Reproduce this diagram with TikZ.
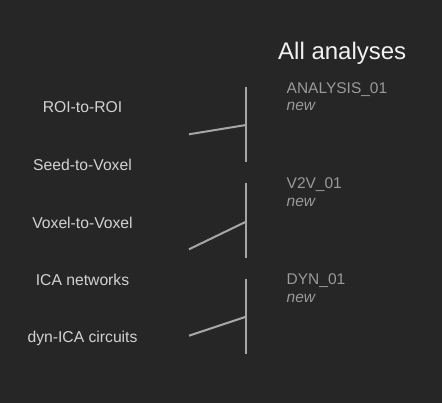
\documentclass[tikz,border=0pt]{standalone}
\usepackage{fontspec}
\setmainfont{Liberation Sans}
\definecolor{bg}{HTML}{262626}
\definecolor{lefttxt}{HTML}{D2D2D2}
\definecolor{grytxt}{HTML}{9A9A9A}
\definecolor{bar}{HTML}{A6A6A6}
\definecolor{titletxt}{HTML}{F2F2F2}
\tikzset{
  leftlabel/.style={anchor=base, inner sep=0pt, text=lefttxt, font=\fontsize{15.7}{18}\selectfont},
  anlabel/.style={anchor=base west, inner sep=0pt, text=grytxt, font=\fontsize{15.5}{18}\selectfont},
  newlabel/.style={anchor=base west, inner sep=0pt, text=grytxt, font=\fontsize{15.5}{18}\selectfont\itshape},
  titlelabel/.style={anchor=base west, inner sep=0pt, text=titletxt, font=\fontsize{24}{28}\selectfont},
  barline/.style={draw=bar, line width=2pt},
  diagline/.style={draw=bar, line width=2pt},
}
\begin{document}
\begin{tikzpicture}[x=1pt,y=-1pt]
\fill[bg] (0,0) rectangle (442,403);
\useasboundingbox (0,0) rectangle (442,403);
% title
\node[titlelabel] (title) at (278,60) {All analyses};
% left labels
\node[leftlabel] (roi) at (82.5,112.3) {ROI-to-ROI};
\node[leftlabel] (seed) at (82.5,170.5) {Seed-to-Voxel};
\node[leftlabel] (voxel) at (82.5,228.3) {Voxel-to-Voxel};
\node[leftlabel] (ica) at (82.5,285.7) {ICA networks};
\node[leftlabel] (dyn) at (82.5,342.3) {dyn-ICA circuits};
% analysis labels
\node[anlabel] (a1) at (286.5,93.3) {ANALYSIS\_01};
\node[newlabel] (n1) at (286.5,110.7) {new};
\node[anlabel] (a2) at (286.5,189) {V2V\_01};
\node[newlabel] (n2) at (286.5,206.7) {new};
\node[anlabel] (a3) at (286.5,285) {DYN\_01};
\node[newlabel] (n3) at (286.5,302.7) {new};
% bars
\coordinate (b1t) at (246,87);
\coordinate (b1b) at (246,162);
\coordinate (b2t) at (246,183);
\coordinate (b2b) at (246,258);
\coordinate (b3t) at (246,279);
\coordinate (b3b) at (246,354);
\coordinate (d1s) at (189,134.3);
\coordinate (d1e) at (246,125);
\coordinate (d2s) at (189,249.3);
\coordinate (d2e) at (246,221.7);
\coordinate (d3s) at (189,335.7);
\coordinate (d3e) at (246,316.7);
\draw[barline] (b1t) -- (b1b);
\draw[barline] (b2t) -- (b2b);
\draw[barline] (b3t) -- (b3b);
\draw[diagline] (d1s) -- (d1e);
\draw[diagline] (d2s) -- (d2e);
\draw[diagline] (d3s) -- (d3e);
\end{tikzpicture}
\end{document}
